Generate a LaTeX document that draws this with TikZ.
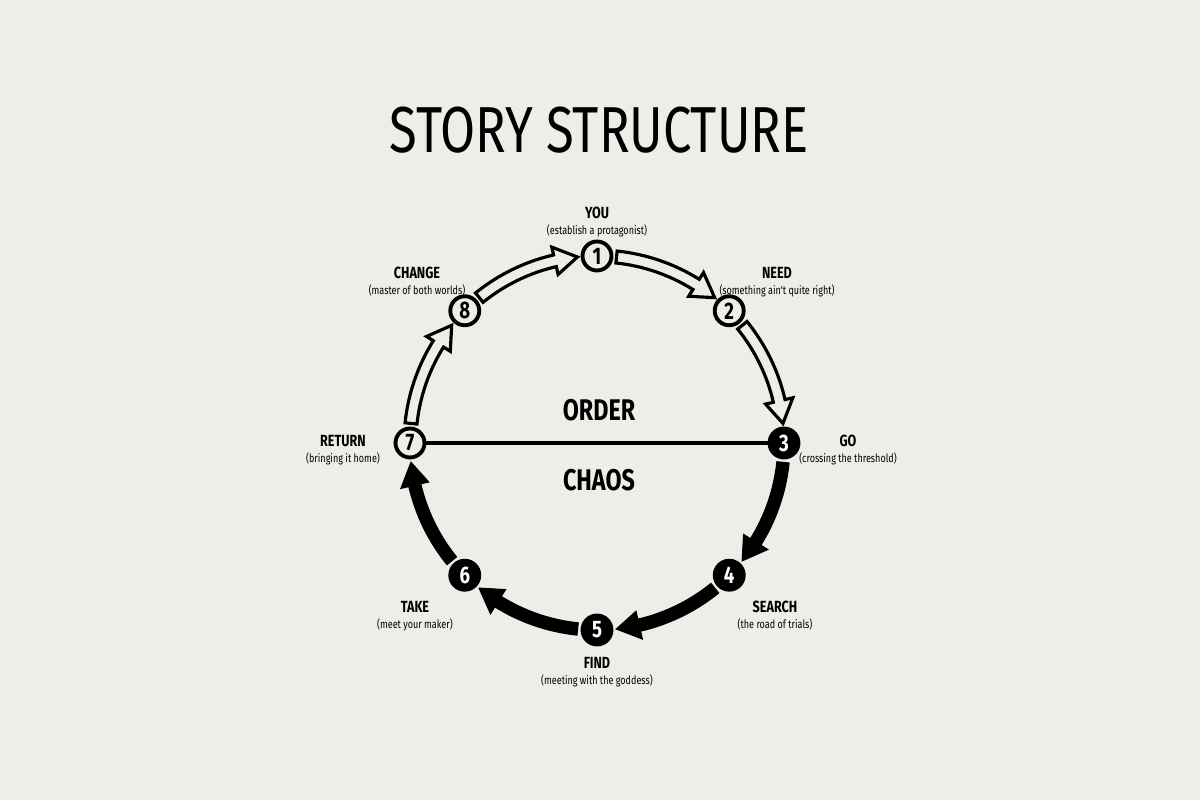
\documentclass[tikz,border=0pt]{standalone}
\usepackage{fontspec}
\setmainfont{Fira Sans}
\newfontfamily\narrowfont[FakeStretch=0.78]{Fira Sans}
\usetikzlibrary{positioning}
\definecolor{paper}{HTML}{EFEDE8}
% fat arc arrow, clockwise around (c): {from angle}{to angle}{style}
\newcommand{\fatarc}[3]{%
  \draw[#3] ([shift={(c)}]#1:1.93) arc[start angle=#1, end angle=#2+7, radius=1.93]
    -- ([shift={(c)}]#2+7:2.01) -- ([shift={(c)}]#2:1.87) -- ([shift={(c)}]#2+7:1.73)
    -- ([shift={(c)}]#2+7:1.81) arc[start angle=#2+7, end angle=#1, radius=1.81] -- cycle;}
\begin{document}
\begin{tikzpicture}[
    stage/.style={circle, draw, line width=1.1pt, minimum size=0.29cm, inner sep=0pt,
      font=\narrowfont\fontsize{6.8}{7}\selectfont\bfseries},
    dark/.style={stage, fill=black, text=white},
    light/.style={stage, fill=paper},
    head/.style={font=\narrowfont\fontsize{4.6}{5}\selectfont\bfseries, align=center},
    note/.style={font=\narrowfont\fontsize{3.3}{4}\selectfont},
    outline/.style={draw=black, fill=paper, line width=0.9pt, line join=miter},
    solid/.style={fill=black, draw=black, line width=0.4pt}]
  \fill[paper] (0,0) rectangle (12,8);
  \useasboundingbox (0,0) rectangle (12,8);
  \coordinate (c) at (5.97,3.57);
  \node[font=\narrowfont\fontsize{18.5}{20}\selectfont] (title) at (5.99,6.70) {STORY STRUCTURE};
  % arrows
  \fatarc{84}{51}{outline}
  \fatarc{39}{6}{outline}
  \fatarc{174}{141}{outline}
  \fatarc{129}{96}{outline}
  \fatarc{-6}{-39}{solid}
  \fatarc{-51}{-84}{solid}
  \fatarc{-96}{-129}{solid}
  \fatarc{-141}{-174}{solid}
  % stages
  \node[light] (s1) at ([shift={(c)}]90:1.87) {1};
  \node[light] (s2) at ([shift={(c)}]45:1.87) {2};
  \node[dark] (s3) at ([shift={(c)}]0:1.87) {3};
  \node[dark] (s4) at ([shift={(c)}]-45:1.87) {4};
  \node[dark] (s5) at ([shift={(c)}]-90:1.87) {5};
  \node[dark] (s6) at ([shift={(c)}]-135:1.87) {6};
  \node[light] (s7) at ([shift={(c)}]180:1.87) {7};
  \node[light] (s8) at ([shift={(c)}]135:1.87) {8};
  \draw[line width=0.9pt] (s7) -- (s3);
  \node[font=\narrowfont\fontsize{8.5}{9}\selectfont\bfseries] (order) at (5.99,3.90) {ORDER};
  \node[font=\narrowfont\fontsize{8.5}{9}\selectfont\bfseries] (chaos) at (5.99,3.20) {CHAOS};
  % labels
  \node[head] (l1) at (5.97,5.87) {YOU};
  \node[note, below=-0.19cm of l1] {(establish a protagonist)};
  \node[head] (l2) at (7.77,5.27) {NEED};
  \node[note, below=-0.19cm of l2] {(something ain't quite right)};
  \node[head] (l3) at (8.48,3.59) {GO};
  \node[note, below=-0.19cm of l3] {(crossing the threshold)};
  \node[head] (l4) at (7.75,1.93) {SEARCH};
  \node[note, below=-0.19cm of l4] {(the road of trials)};
  \node[head] (l5) at (5.97,1.37) {FIND};
  \node[note, below=-0.19cm of l5] {(meeting with the goddess)};
  \node[head] (l6) at (4.15,1.93) {TAKE};
  \node[note, below=-0.19cm of l6] {(meet your maker)};
  \node[head] (l7) at (3.43,3.59) {RETURN};
  \node[note, below=-0.19cm of l7] {(bringing it home)};
  \node[head] (l8) at (4.17,5.27) {CHANGE};
  \node[note, below=-0.19cm of l8] {(master of both worlds)};
\end{tikzpicture}
\end{document}
